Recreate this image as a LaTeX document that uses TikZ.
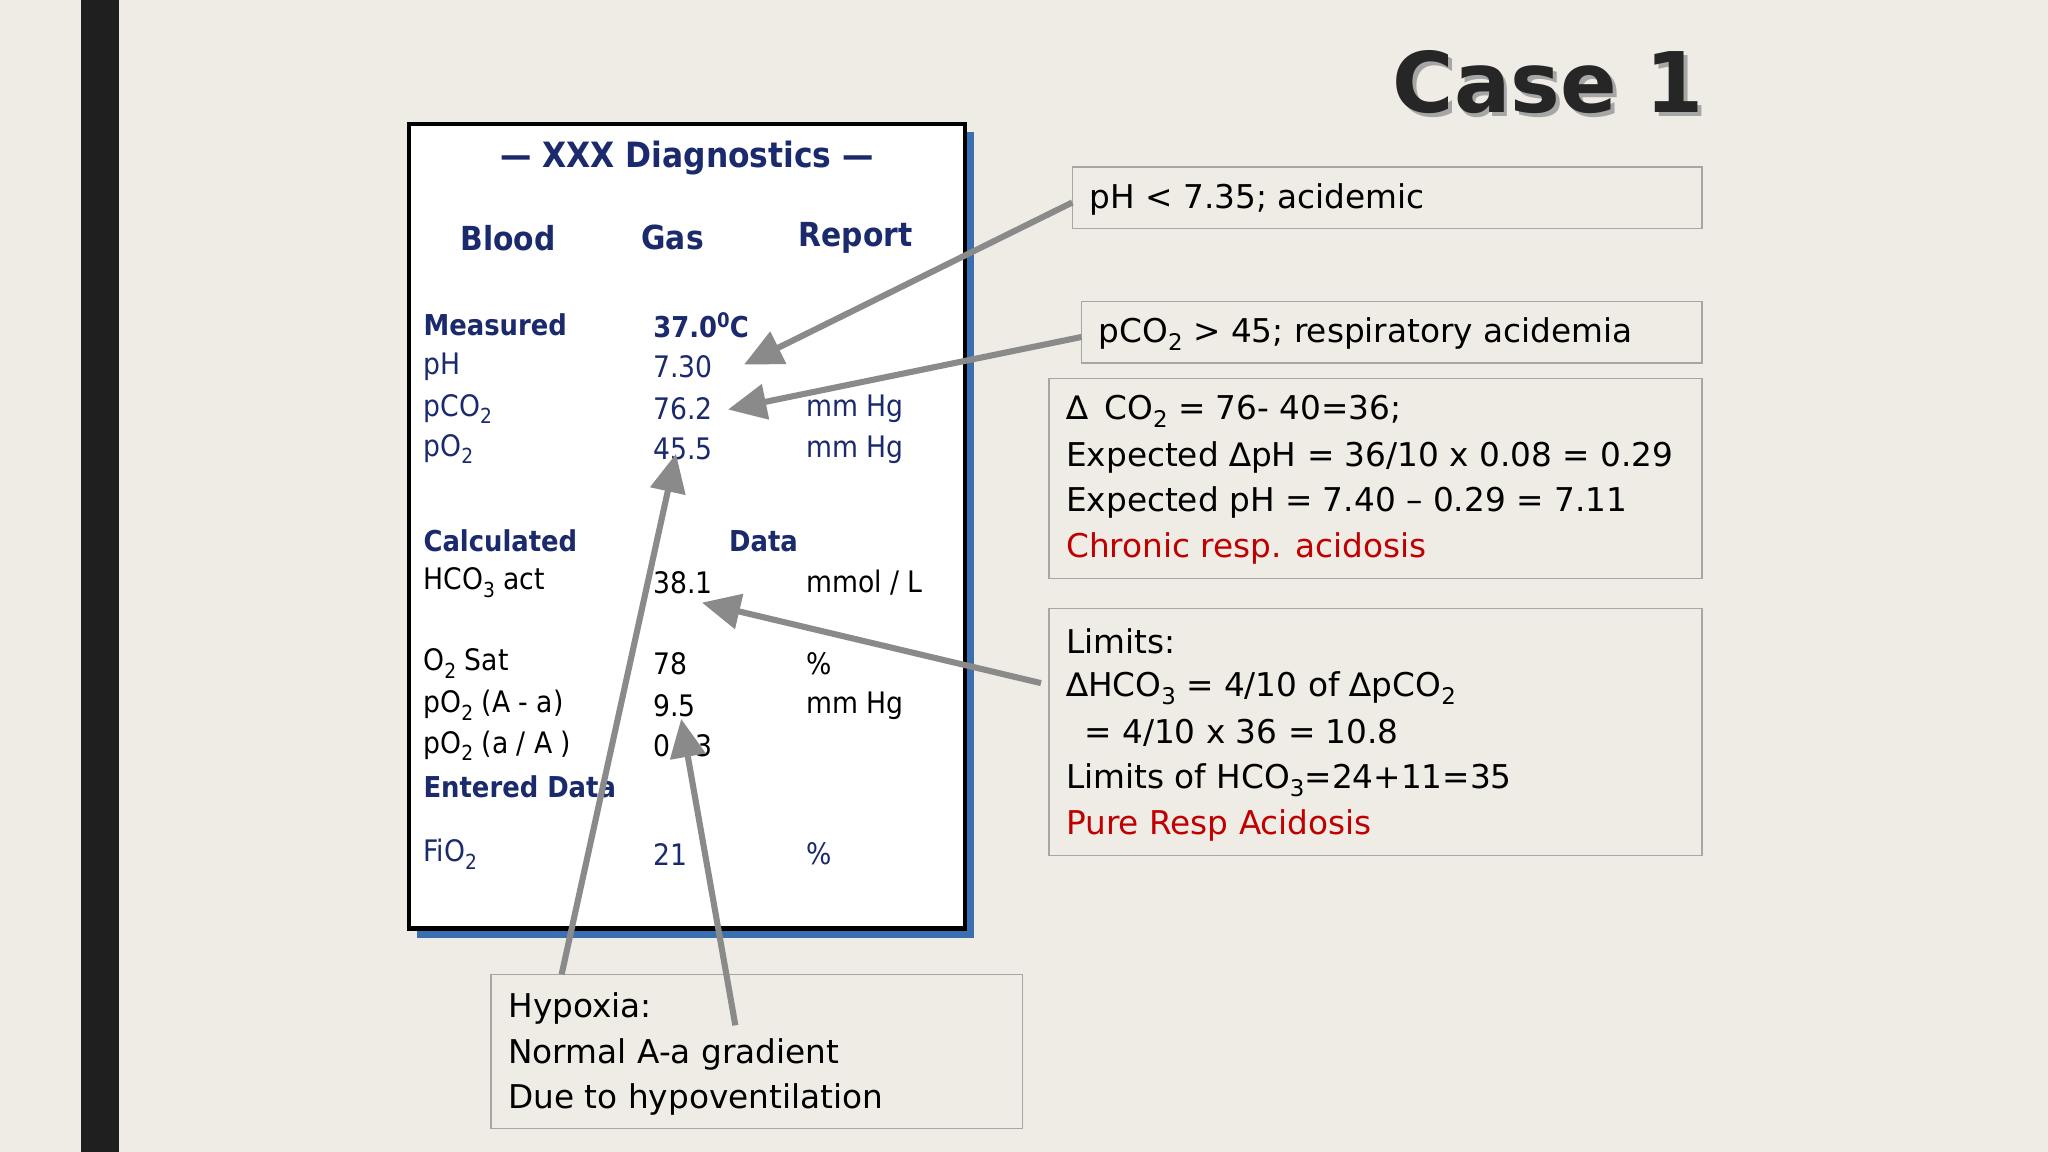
\documentclass[tikz,border=0pt]{standalone}
\usepackage{fontspec}
\usepackage{graphicx}
\setmainfont{DejaVu Sans}
\newfontfamily\repf{DejaVu Sans Condensed}
\usetikzlibrary{arrows.meta}
\definecolor{bg}{HTML}{EFECE6}
\definecolor{navy}{HTML}{1A2A6C}
\definecolor{arr}{HTML}{8A8A8A}
\definecolor{redt}{HTML}{C00000}
\definecolor{shad}{HTML}{3A6FB0}
\newcommand\dn[1]{\raisebox{-0.45ex}{\scalebox{0.7}{#1}}}
\newcommand\upx[1]{\raisebox{0.6ex}{\scalebox{0.7}{#1}}}
\tikzset{
 rt/.style={anchor=west,inner sep=0pt,font=\repf\fontsize{17pt}{19pt}\selectfont,text=navy},
 rb/.style={rt,font=\repf\bfseries\fontsize{16.5pt}{19pt}\selectfont},
 rk/.style={rt,text=black},
 ct/.style={anchor=west,inner sep=0pt,font=\fontsize{18.8pt}{21pt}\selectfont},
 cbox/.style={draw=gray!70,line width=0.8pt,fill=bg},
 garrow/.style={draw=arr,line width=3.5pt,-{Triangle[length=22pt,width=20pt]},shorten >=-2pt}
}
\begin{document}
\begin{tikzpicture}[x=0.75pt,y=-0.75pt]
\fill[bg] (0,0) rectangle (1568,882);
\useasboundingbox (0,0) rectangle (1568,882);
\fill[black!88] (62,0) rectangle (91,882);
% title
\node[anchor=base east,inner sep=0pt,font=\bfseries\fontsize{48pt}{56pt}\selectfont,text=black!35] at (1308,89) {Case 1};
\node[anchor=base east,inner sep=0pt,font=\bfseries\fontsize{48pt}{56pt}\selectfont,text=black!85] (title) at (1305,86) {Case 1};
% report box
\fill[shad] (319,101) rectangle (746,718);
\draw[fill=white,line width=2.5pt] (313,95) rectangle (739,711);
\node[rb,anchor=center,font=\repf\bfseries\fontsize{20pt}{24pt}\selectfont] (rtitle) at (526,121) {— XXX Diagnostics —};
\node[rb,anchor=center,font=\repf\bfseries\fontsize{19pt}{22pt}\selectfont] (bl) at (389,182) {Blood};
\node[rb,anchor=center,font=\repf\bfseries\fontsize{19pt}{22pt}\selectfont] (gs) at (515,182) {Gas};
\node[rb,anchor=center,font=\repf\bfseries\fontsize{19pt}{22pt}\selectfont] (rp) at (655,182) {Report};
\node[rb] (m1) at (324,249) {Measured};
\node[rt] (m2) at (324,281) {pH};
\node[rt] (m3) at (324,313) {pCO\dn{2}};
\node[rt] (m4) at (324,344) {pO\dn{2}};
\node[rb] (m5) at (324,414) {Calculated};
\node[rk] (m6) at (324,446) {HCO\dn{3} act};
\node[rk] (m7) at (324,508) {O\dn{2} Sat};
\node[rk] (m8) at (324,540) {pO\dn{2} (A - a)};
\node[rk] (m9) at (324,571) {pO\dn{2} (a / A )};
\node[rb] (m10) at (324,602) {Entered Data};
\node[rt] (m11) at (324,654) {FiO\dn{2}};
\node[rb] (v1) at (500,249) {37.0\upx{0}C};
\node[rt] (v2) at (500,281) {7.30};
\node[rt] (v3) at (500,313) {76.2};
\node[rt] (v4) at (500,344) {45.5};
\node[rb] (v5) at (558,414) {Data};
\node[rk] (v6) at (500,446) {38.1};
\node[rk] (v7) at (500,508) {78};
\node[rk] (v8) at (500,540) {9.5};
\node[rk] (v9) at (500,571) {0.33};
\node[rt] (v11) at (500,654) {21};
\node[rt] (u3) at (617,313) {mm Hg};
\node[rt] (u4) at (617,344) {mm Hg};
\node[rk] (u6) at (617,446) {mmol / L};
\node[rk] (u7) at (617,508) {\%};
\node[rk] (u8) at (617,540) {mm Hg};
\node[rt] (u11) at (617,654) {\%};
% callouts
\draw[cbox] (821,128) rectangle (1303,175);
\node[ct] (c1) at (834,153) {pH < 7.35; acidemic};
\draw[cbox] (828,231) rectangle (1303,278);
\node[ct] (c2) at (841,256) {pCO\dn{2} > 45; respiratory acidemia};
\draw[cbox] (803,290) rectangle (1303,443);
\node[ct] (c3a) at (816,315) {∆\enspace CO\dn{2} = 76- 40=36;};
\node[ct] (c3b) at (816,350) {Expected ∆pH = 36/10 x 0.08 = 0.29};
\node[ct] (c3c) at (816,385) {Expected pH = 7.40 – 0.29 = 7.11};
\node[ct,text=redt] (c3d) at (816,420) {Chronic resp. acidosis};
\draw[cbox] (803,466) rectangle (1303,655);
\node[ct] (c4a) at (816,491) {Limits:};
\node[ct] (c4b) at (816,527) {∆HCO\dn{3} = 4/10 of ∆pCO\dn{2}};
\node[ct] (c4c) at (830,561) {= 4/10 x 36 = 10.8};
\node[ct] (c4d) at (816,597) {Limits of HCO\dn{3}=24+11=35};
\node[ct,text=redt] (c4e) at (816,632) {Pure Resp Acidosis};
\draw[cbox] (376,746) rectangle (783,864);
\node[ct] (c5a) at (389,772) {Hypoxia:};
\node[ct] (c5b) at (389,807) {Normal A-a gradient};
\node[ct] (c5c) at (389,842) {Due to hypoventilation};
% arrows
\coordinate (s1) at (821,155); \coordinate (t1) at (572,278);
\coordinate (s2) at (828,258); \coordinate (t2) at (560,313);
\coordinate (s3) at (797,523); \coordinate (t3) at (540,462);
\coordinate (s4) at (430,746); \coordinate (t4) at (517,350);
\coordinate (s5) at (563,785); \coordinate (t5) at (522,553);
\draw[garrow] (s1) -- (t1);
\draw[garrow] (s2) -- (t2);
\draw[garrow] (s3) -- (t3);
\draw[garrow] (s4) -- (t4);
\draw[garrow] (s5) -- (t5);
\end{tikzpicture}
\end{document}
